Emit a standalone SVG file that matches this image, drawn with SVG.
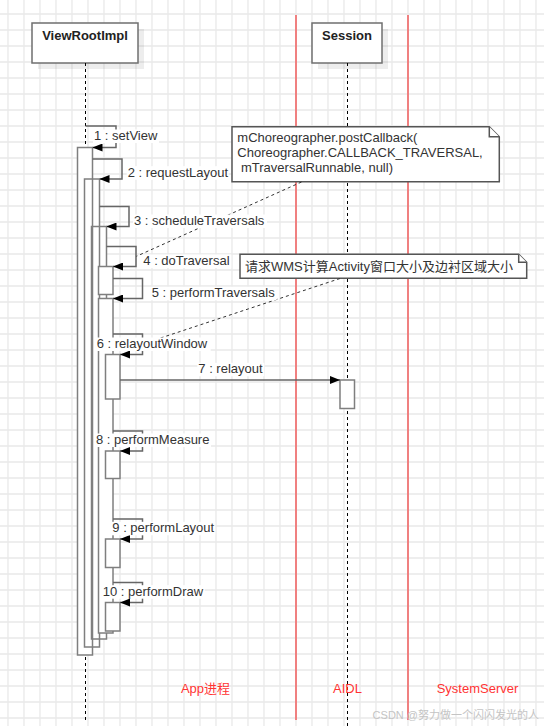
<svg xmlns="http://www.w3.org/2000/svg" width="544" height="726" viewBox="0 0 544 726">
<defs>
<pattern id="grid" width="16" height="16" patternUnits="userSpaceOnUse">
<path d="M8 0V16M0 14H16" stroke="#e9e9e9" stroke-width="1.3" fill="none"/>
</pattern>
<marker id="arr" markerUnits="userSpaceOnUse" markerWidth="10" markerHeight="8" viewBox="0 0 10 8" refX="10" refY="4" orient="auto">
<path d="M0,0 L10,4 L0,8 Z" fill="#000"/>
</marker>
<style>
.txt{font-family:"Liberation Sans",Arial,"Noto Sans CJK SC",sans-serif;font-size:13px;fill:#333}
.title{font-weight:bold;text-anchor:middle;fill:#222}
.box{fill:#fff;stroke:#6f6f6f;stroke-width:1.5}
.shadow{fill:#000;opacity:.07}
.act{fill:#fff;stroke:#7f7f7f;stroke-width:1.5}
.actfill{fill:#fff;stroke:none}
.actline{fill:none;stroke:#7f7f7f;stroke-width:1.5}
.life{stroke:#000;stroke-width:1;stroke-dasharray:3 3;fill:none}
.msg{fill:none;stroke:#666;stroke-width:1.5;marker-end:url(#arr)}
.lblbg{fill:#fff}
.note{fill:#fff;stroke:#555;stroke-width:1.5}
.notelink{stroke:#333;stroke-width:1;stroke-dasharray:3 3;fill:none}
.sep{stroke:#f08080;stroke-width:2}
.region{fill:#ff3333;text-anchor:middle}
.wm{fill:#c4c4c4;font-size:11px;text-anchor:end}
</style>
</defs>
<rect width="544" height="726" fill="#fff"/>
<rect width="544" height="726" fill="url(#grid)"/>

<g id="separators">
<line class="sep" x1="296" y1="15" x2="296" y2="720"/>
<line class="sep" x1="408" y1="15" x2="408" y2="720"/>
</g>

<g id="lifeline-viewrootimpl">
<rect class="shadow" x="38" y="29" width="106" height="40"/>
<rect class="box" x="32" y="23" width="106" height="40"/>
<text class="txt title" x="85" y="39.5">ViewRootImpl</text>
<line class="life" x1="85.5" y1="63" x2="85.5" y2="720"/>
<rect class="actfill" x="77.5" y="147.5" width="15" height="507.5"/>
<rect class="actfill" x="84.5" y="179" width="15" height="468"/>
<rect class="actfill" x="91.5" y="226.5" width="15" height="412.5"/>
<rect class="actline" x="77.5" y="147.5" width="15" height="507.5"/>
<rect class="actline" x="84.5" y="179" width="15" height="468"/>
<rect class="actline" x="91.5" y="226.5" width="15" height="412.5"/>
<rect class="act" x="98.5" y="266.5" width="14.5" height="28"/>
<rect class="act" x="98.5" y="298.5" width="14.5" height="334.5"/>
<rect class="act" x="105.5" y="354.5" width="14.5" height="44.5"/>
<rect class="act" x="105.5" y="451" width="14.5" height="27.5"/>
<rect class="act" x="105.5" y="539" width="14.5" height="28.5"/>
<rect class="act" x="105.5" y="602.5" width="14.5" height="28.5"/>
</g>

<g id="lifeline-session">
<rect class="shadow" x="318" y="29" width="70" height="40"/>
<rect class="box" x="312" y="23" width="70" height="40"/>
<text class="txt title" x="347" y="39.5">Session</text>
<line class="life" x1="347.5" y1="63" x2="347.5" y2="726"/>
<rect class="act" x="340" y="380" width="14.5" height="28.5"/>
</g>

<g id="note-postcallback">
<path class="note" d="M232,126.7 H489.3 L499.3,136.7 V181.7 H232 Z"/>
<path class="note" d="M489.3,126.7 V136.7 H499.3" fill="none"/>
<text class="txt" x="237.3" y="141.7">mChoreographer.postCallback(</text>
<text class="txt" x="237.3" y="156.7">Choreographer.CALLBACK_TRAVERSAL,</text>
<text class="txt" x="241" y="171.7">mTraversalRunnable, null)</text>
</g>

<g id="note-wms">
<path class="note" d="M240,254.3 H518.7 L526.7,262.3 V278.3 H240 Z"/>
<path class="note" d="M518.7,254.3 V262.3 H526.7" fill="none"/>
<text class="txt" x="245" y="271">请求WMS计算Activity窗口大小及边衬区域大小</text>
</g>

<g id="connectors">
<line class="notelink" x1="301.5" y1="182" x2="136" y2="256.5"/>
<line class="notelink" x1="340" y1="278.5" x2="142.5" y2="344"/>
<path class="msg" d="M85.5,126 H116 V147.5 H92.5"/>
<path class="msg" d="M92.5,159 H122 V179 H99.5"/>
<path class="msg" d="M99.5,206.5 H129 V226.5 H106.5"/>
<path class="msg" d="M106.5,246.5 H136 V266.5 H113"/>
<path class="msg" d="M113,278.5 H142.5 V298.5 H113"/>
<path class="msg" d="M113,334 H142.5 V354.5 H120"/>
<path class="msg" d="M120,380 H340"/>
<path class="msg" d="M113,431 H142.5 V451 H120"/>
<path class="msg" d="M113,519 H142.5 V539 H120"/>
<path class="msg" d="M113,582.5 H142.5 V602.5 H120"/>
</g>

<g id="message-labels">
<rect class="lblbg" x="93" y="129.5" width="66" height="13.5"/>
<text class="txt" x="94" y="140">1 : setView</text>
<rect class="lblbg" x="126.7" y="166.2" width="102" height="13.5"/>
<text class="txt" x="127.7" y="176.7">2 : requestLayout</text>
<rect class="lblbg" x="133" y="214.5" width="134" height="13.5"/>
<text class="txt" x="134" y="225">3 : scheduleTraversals</text>
<rect class="lblbg" x="142.3" y="254.5" width="89" height="13.5"/>
<text class="txt" x="143.3" y="265">4 : doTraversal</text>
<rect class="lblbg" x="150.7" y="286.8" width="126" height="13.5"/>
<text class="txt" x="151.7" y="297.3">5 : performTraversals</text>
<rect class="lblbg" x="95.7" y="337.5" width="115" height="13.5"/>
<text class="txt" x="96.7" y="348">6 : relayoutWindow</text>
<rect class="lblbg" x="197.3" y="362.8" width="67" height="13.5"/>
<text class="txt" x="198.3" y="373.3">7 : relayout</text>
<rect class="lblbg" x="95" y="433.5" width="116" height="13.5"/>
<text class="txt" x="96" y="444">8 : performMeasure</text>
<rect class="lblbg" x="111.3" y="521.8" width="104" height="13.5"/>
<text class="txt" x="112.3" y="532.3">9 : performLayout</text>
<rect class="lblbg" x="101.7" y="585.2" width="103" height="13.5"/>
<text class="txt" x="102.7" y="595.7">10 : performDraw</text>
</g>

<g id="regions">
<text class="txt region" x="205.5" y="693">App进程</text>
<text class="txt region" x="347.5" y="693">AIDL</text>
<text class="txt region" x="477.5" y="693">SystemServer</text>
</g>

<text class="txt wm" x="539" y="719">CSDN @努力做一个闪闪发光的人</text>
</svg>
